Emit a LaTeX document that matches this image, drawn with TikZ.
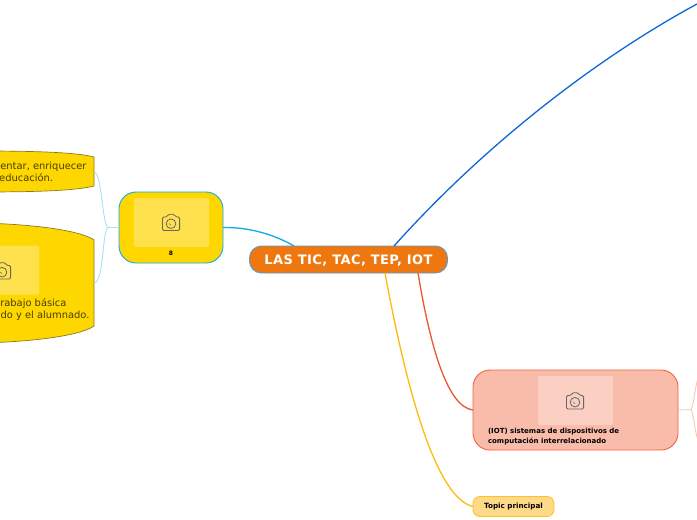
\documentclass[tikz,border=0pt]{standalone}
\usepackage{fontspec}
\setmainfont{DejaVu Sans}
\definecolor{cOrange}{HTML}{EE7710}
\definecolor{cOrangeEdge}{HTML}{5C9BCB}
\definecolor{cGold}{HTML}{FFD700}
\definecolor{cGoldImg}{HTML}{FFE14D}
\definecolor{cSky}{HTML}{12A9E6}
\definecolor{cSkyPale}{HTML}{A8E0F8}
\definecolor{cBlue}{HTML}{0F66D6}
\definecolor{cRed}{HTML}{E9562F}
\definecolor{cSalmon}{HTML}{F9BBAA}
\definecolor{cSalmonImg}{HTML}{FBCFC2}
\definecolor{cSalmonEdge}{HTML}{F2643C}
\definecolor{cSalmonPale}{HTML}{FBC8B8}
\definecolor{cYellow}{HTML}{FFB90F}
\definecolor{cTopic}{HTML}{FFD98A}
\definecolor{cTopicEdge}{HTML}{FFC226}
\definecolor{cIcon}{HTML}{666666}
\definecolor{cLeafText}{HTML}{4A3F00}
\definecolor{cLeafEdge}{HTML}{8A7A20}
\tikzset{
  x=1pt,y=-1pt,
  box/.style={draw,inner sep=0pt,outer sep=0pt,line width=.9pt},
  imgbox/.style={inner sep=0pt,rounded corners=2pt,minimum width=75pt,minimum height=49pt},
  txt/.style={inner sep=0pt,outer sep=0pt,text=black},
  leaftxt/.style={txt,anchor=east,font=\fontsize{9.9}{12}\selectfont,text=cLeafText,text height=7.5pt,text depth=0pt},
  link/.style={line width=1.3pt},
  palelink/.style={line width=.9pt},
  camicon/.pic={
    \draw[cIcon,line width=.8pt,rounded corners=1.4pt]
      (-8.6,-5.5) -- (-4,-5.5) -- (-2.8,-8.2) -- (3.4,-8.2) -- (4.6,-5.5) -- (8.6,-5.5)
      -- (8.6,8) -- (-8.6,8) -- cycle;
    \draw[cIcon,line width=.8pt] (0,1.2) circle (4.8);
    \draw[cIcon,line width=.6pt] (-1.8,1) arc (180:90:1.8);
  }
}
\begin{document}
\begin{tikzpicture}
\useasboundingbox (0,0) rectangle (697,520);
\clip (0,0) rectangle (697,520);

% nodes
\node[box,draw=cOrangeEdge,fill=cOrange,rounded corners=12pt,minimum width=198pt,minimum height=27pt,
  font=\bfseries\fontsize{13}{15}\addfontfeature{LetterSpace=3.2}\selectfont,text=white,text height=9.5pt,text depth=0pt] (hub) at (348.5,259.5) {LAS TIC, TAC, TEP, IOT};
\node[box,draw=cSky,fill=cGold,rounded corners=17pt,minimum width=104pt,minimum height=71pt] (eight) at (171,227.5) {};
\node[imgbox,fill=cGoldImg] (eightimg) at (171.5,222.5) {};
\pic at (171,222.5) {camicon};
\node[txt,font=\bfseries\fontsize{6}{7}\selectfont] (eightlabel) at (171,253.5) {8};

\node[box,draw=cSalmonEdge,fill=cSalmon,rounded corners=17pt,minimum width=205pt,minimum height=80pt] (iot) at (575.5,410) {};
\node[imgbox,fill=cSalmonImg] (iotimg) at (575.5,400.5) {};
\pic at (575,401) {camicon};
\node[txt,anchor=north west,align=left,font=\bfseries\fontsize{7}{9.3}\selectfont] (iotlabel) at (488,428.5)
  {(IOT) sistemas de dispositivos de\\computación interrelacionado};

\node[box,draw=cTopicEdge,fill=cTopic,rounded corners=7pt,minimum width=81pt,minimum height=20pt,
  font=\bfseries\fontsize{7.2}{8}\selectfont] (topic) at (513.5,506.5) {Topic principal};

% left shapes
\path[box,line width=.7pt,draw=cLeafEdge,fill=cGold]
  (-20,151) .. controls (30,151) and (75,152) .. (94,157) -- (94,186)
  .. controls (75,191) and (30,192) .. (-20,192) -- cycle;
\coordinate (leafa) at (94,172);
\node[leaftxt] (leafatop) at (86.5,165.5) {entar, enriquecer};
\node[leaftxt] (leafabot) at (53,177.5) {educación.};

\path[box,line width=.7pt,draw=cLeafEdge,fill=cGold]
  (-20,223) .. controls (30,224) and (80,230) .. (94,240) -- (94,326)
  .. controls (80,336) and (30,342) .. (-20,343) -- cycle;
\coordinate (leafb) at (94,283);
\node[imgbox,fill=cGoldImg] (leafbimg) at (1.5,270) {};
\pic at (2,271) {camicon};
\node[leaftxt] (leafbtop) at (66.5,303) {rabajo básica};
\node[leaftxt] (leafbbot) at (89.5,315) {do y el alumnado.};

% free ends and joints
\coordinate (sky) at (697,4);
\coordinate (splitl) at (108,227.5);
\coordinate (splitr) at (691,409.5);
\coordinate (rup) at (699,375);
\coordinate (rdown) at (699,443);
\coordinate (hubtl) at (294,246);
\coordinate (hubtr) at (394,246);
\coordinate (hubbl) at (385,273);
\coordinate (hubbr) at (418,273);

% connectors
\draw[link,cBlue] (hubtr) .. controls (480,150) and (590,62) .. (sky);
\draw[link,cSky] (eight.east) .. controls (250,227) and (275,235) .. (hubtl);
\draw[link,cRed] (hubbr) .. controls (430,345) and (447,407) .. (iot.west);
\draw[link,cYellow] (hubbl) .. controls (402,365) and (432,497) .. (topic.west);
\draw[palelink,cSkyPale] (eight.west) -- (splitl)
  .. controls (102,224) and (102,172) .. (leafa);
\draw[palelink,cSkyPale] (splitl) .. controls (102,231) and (104,283) .. (leafb);
\draw[palelink,cSalmonPale] (iot.east) -- (splitr) .. controls (694,405) and (695,385) .. (rup);
\draw[palelink,cSalmonPale] (splitr) .. controls (694,414) and (695,435) .. (rdown);
\end{tikzpicture}
\end{document}
